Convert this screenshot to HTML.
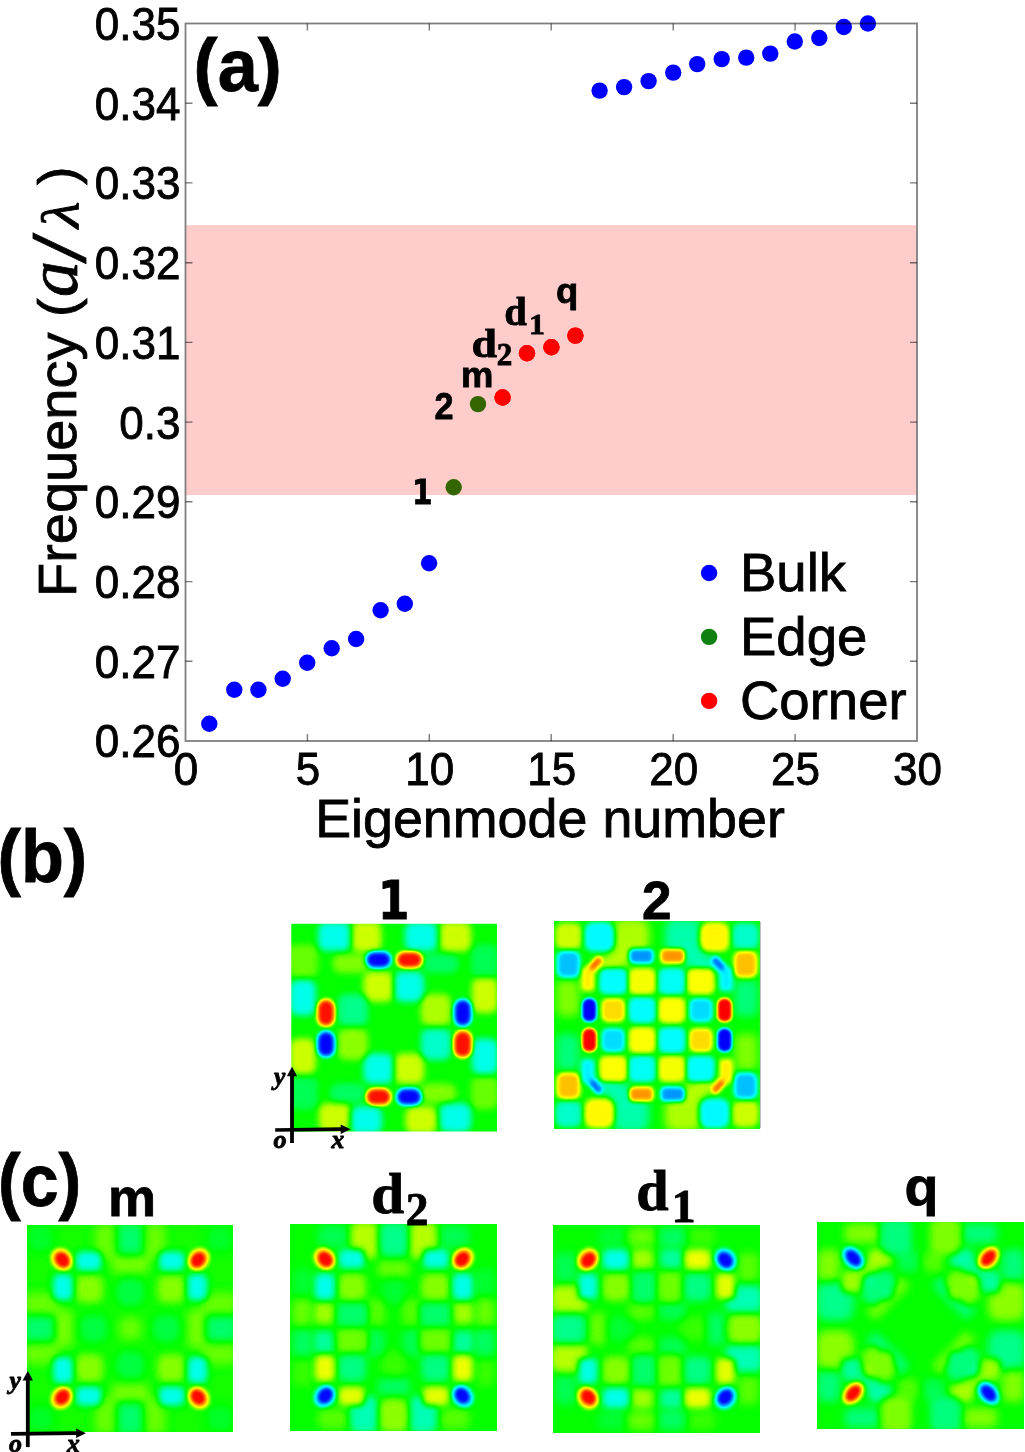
<!DOCTYPE html><html><head><meta charset="utf-8"><title>Figure</title>
<style>html,body{margin:0;padding:0;background:#fff}svg{display:block}text{font-family:"Liberation Sans",sans-serif;fill:#000;stroke:#000;stroke-width:.8px}.b{font-weight:bold}.ri{font-family:"Liberation Serif",serif;font-style:italic}.sit{font-style:italic}.dj{font-family:"DejaVu Sans",sans-serif;font-weight:bold}.s{font-family:"Liberation Serif",serif;font-weight:bold}.si{font-family:"Liberation Serif",serif;font-style:italic;font-weight:bold}</style></head><body>
<svg width="1025" height="1452" viewBox="0 0 1025 1452">
<defs><filter id="cm" x="0" y="0" width="1" height="1" color-interpolation-filters="sRGB"><feComponentTransfer><feFuncR type="table" tableValues="0 0 0 0 0 1 1 1 0.5"/><feFuncG type="table" tableValues="0 0 0.5 1 1 1 0.5 0 0"/><feFuncB type="table" tableValues="0.5 1 1 1 0 0 0 0 0"/></feComponentTransfer></filter>
<clipPath id="c1"><rect x="291.3" y="923.7" width="205.7" height="207.79999999999995"/></clipPath>
<clipPath id="c2"><rect x="554.8" y="921.8" width="204.4000000000001" height="206.60000000000014"/></clipPath>
<clipPath id="c3"><rect x="27.9" y="1225.5" width="204.6" height="206.0999999999999"/></clipPath>
<clipPath id="c4"><rect x="290.5" y="1224.4" width="206.5" height="206.0999999999999"/></clipPath>
<clipPath id="c5"><rect x="553.5" y="1225.1" width="206.5" height="207.10000000000014"/></clipPath>
<clipPath id="c6"><rect x="817.9" y="1222.5" width="206.0" height="206.0999999999999"/></clipPath>
<filter id="b1_5" x="-0.2" y="-0.2" width="1.4" height="1.4" color-interpolation-filters="sRGB"><feGaussianBlur stdDeviation="1.5"/></filter>
<filter id="b1_8" x="-0.2" y="-0.2" width="1.4" height="1.4" color-interpolation-filters="sRGB"><feGaussianBlur stdDeviation="1.8"/></filter>
<filter id="b2_0" x="-0.2" y="-0.2" width="1.4" height="1.4" color-interpolation-filters="sRGB"><feGaussianBlur stdDeviation="2.0"/></filter>
<filter id="b2_1" x="-0.2" y="-0.2" width="1.4" height="1.4" color-interpolation-filters="sRGB"><feGaussianBlur stdDeviation="2.1"/></filter>
<filter id="b2_2" x="-0.2" y="-0.2" width="1.4" height="1.4" color-interpolation-filters="sRGB"><feGaussianBlur stdDeviation="2.2"/></filter>
<filter id="b2_5" x="-0.2" y="-0.2" width="1.4" height="1.4" color-interpolation-filters="sRGB"><feGaussianBlur stdDeviation="2.5"/></filter>
<filter id="b3_0" x="-0.2" y="-0.2" width="1.4" height="1.4" color-interpolation-filters="sRGB"><feGaussianBlur stdDeviation="3.0"/></filter>
<filter id="b3_2" x="-0.2" y="-0.2" width="1.4" height="1.4" color-interpolation-filters="sRGB"><feGaussianBlur stdDeviation="3.2"/></filter>
<filter id="b3_5" x="-0.2" y="-0.2" width="1.4" height="1.4" color-interpolation-filters="sRGB"><feGaussianBlur stdDeviation="3.5"/></filter>
<filter id="b4_0" x="-0.2" y="-0.2" width="1.4" height="1.4" color-interpolation-filters="sRGB"><feGaussianBlur stdDeviation="4.0"/></filter></defs>
<rect width="1025" height="1452" fill="#fff"/>
<circle cx="209.3" cy="723.7" r="8.2" fill="#0000ff"/>
<circle cx="234.3" cy="689.7" r="8.2" fill="#0000ff"/>
<circle cx="258.4" cy="689.7" r="8.2" fill="#0000ff"/>
<circle cx="282.7" cy="678.7" r="8.2" fill="#0000ff"/>
<circle cx="307.2" cy="662.7" r="8.2" fill="#0000ff"/>
<circle cx="331.7" cy="648.3" r="8.2" fill="#0000ff"/>
<circle cx="356.1" cy="639.0" r="8.2" fill="#0000ff"/>
<circle cx="380.6" cy="610.3" r="8.2" fill="#0000ff"/>
<circle cx="404.8" cy="603.8" r="8.2" fill="#0000ff"/>
<circle cx="429.1" cy="563.3" r="8.2" fill="#0000ff"/>
<circle cx="453.7" cy="487.2" r="8.2" fill="#008000"/>
<circle cx="478.0" cy="404.1" r="8.2" fill="#008000"/>
<circle cx="502.6" cy="397.5" r="8.2" fill="#ff0000"/>
<circle cx="527.0" cy="353.2" r="8.2" fill="#ff0000"/>
<circle cx="551.4" cy="347.3" r="8.2" fill="#ff0000"/>
<circle cx="575.4" cy="335.6" r="8.2" fill="#ff0000"/>
<circle cx="599.6" cy="90.6" r="8.2" fill="#0000ff"/>
<circle cx="624.1" cy="87.1" r="8.2" fill="#0000ff"/>
<circle cx="648.6" cy="81.1" r="8.2" fill="#0000ff"/>
<circle cx="673.2" cy="72.6" r="8.2" fill="#0000ff"/>
<circle cx="697.2" cy="64.1" r="8.2" fill="#0000ff"/>
<circle cx="721.7" cy="59.1" r="8.2" fill="#0000ff"/>
<circle cx="746.2" cy="57.6" r="8.2" fill="#0000ff"/>
<circle cx="770.3" cy="53.6" r="8.2" fill="#0000ff"/>
<circle cx="794.8" cy="41.5" r="8.2" fill="#0000ff"/>
<circle cx="819.3" cy="38.0" r="8.2" fill="#0000ff"/>
<circle cx="843.8" cy="27.0" r="8.2" fill="#0000ff"/>
<circle cx="867.9" cy="23.5" r="8.2" fill="#0000ff"/>
<rect x="186.3" y="225.1" width="729.9" height="270.0" fill="#ff0000" fill-opacity="0.2"/>
<circle cx="502.6" cy="397.5" r="8.2" fill="#ff0000"/>
<circle cx="527.0" cy="353.2" r="8.2" fill="#ff0000"/>
<circle cx="551.4" cy="347.3" r="8.2" fill="#ff0000"/>
<circle cx="575.4" cy="335.6" r="8.2" fill="#ff0000"/>
<rect x="185.5" y="23.5" width="731.5" height="717.5" fill="none" stroke="#000" stroke-width="1.8" stroke-opacity=".5"/>
<path d="M185.5 103.2h7M917.0 103.2h-7" stroke="#000" stroke-width="1.4" stroke-opacity=".52"/>
<path d="M185.5 182.9h7M917.0 182.9h-7" stroke="#000" stroke-width="1.4" stroke-opacity=".52"/>
<path d="M185.5 262.7h7M917.0 262.7h-7" stroke="#000" stroke-width="1.4" stroke-opacity=".52"/>
<path d="M185.5 342.4h7M917.0 342.4h-7" stroke="#000" stroke-width="1.4" stroke-opacity=".52"/>
<path d="M185.5 422.1h7M917.0 422.1h-7" stroke="#000" stroke-width="1.4" stroke-opacity=".52"/>
<path d="M185.5 501.8h7M917.0 501.8h-7" stroke="#000" stroke-width="1.4" stroke-opacity=".52"/>
<path d="M185.5 581.6h7M917.0 581.6h-7" stroke="#000" stroke-width="1.4" stroke-opacity=".52"/>
<path d="M185.5 661.3h7M917.0 661.3h-7" stroke="#000" stroke-width="1.4" stroke-opacity=".52"/>
<path d="M307.4 23.5v7M307.4 741.0v-7" stroke="#000" stroke-width="1.4" stroke-opacity=".52"/>
<path d="M429.3 23.5v7M429.3 741.0v-7" stroke="#000" stroke-width="1.4" stroke-opacity=".52"/>
<path d="M551.2 23.5v7M551.2 741.0v-7" stroke="#000" stroke-width="1.4" stroke-opacity=".52"/>
<path d="M673.2 23.5v7M673.2 741.0v-7" stroke="#000" stroke-width="1.4" stroke-opacity=".52"/>
<path d="M795.1 23.5v7M795.1 741.0v-7" stroke="#000" stroke-width="1.4" stroke-opacity=".52"/>
<text transform="translate(180.5 39.9) scale(1 1.03)" font-size="44" text-anchor="end">0.35</text>
<text transform="translate(180.5 119.62222222222223) scale(1 1.03)" font-size="44" text-anchor="end">0.34</text>
<text transform="translate(180.5 199.34444444444446) scale(1 1.03)" font-size="44" text-anchor="end">0.33</text>
<text transform="translate(180.5 279.0666666666666) scale(1 1.03)" font-size="44" text-anchor="end">0.32</text>
<text transform="translate(180.5 358.7888888888889) scale(1 1.03)" font-size="44" text-anchor="end">0.31</text>
<text transform="translate(180.5 438.51111111111106) scale(1 1.03)" font-size="44" text-anchor="end">0.3</text>
<text transform="translate(180.5 518.2333333333333) scale(1 1.03)" font-size="44" text-anchor="end">0.29</text>
<text transform="translate(180.5 597.9555555555555) scale(1 1.03)" font-size="44" text-anchor="end">0.28</text>
<text transform="translate(180.5 677.6777777777778) scale(1 1.03)" font-size="44" text-anchor="end">0.27</text>
<text transform="translate(180.5 757.4) scale(1 1.03)" font-size="44" text-anchor="end">0.26</text>
<text transform="translate(186.0 785.3) scale(1 1.03)" font-size="44" text-anchor="middle">0</text>
<text transform="translate(307.9166666666667 785.3) scale(1 1.03)" font-size="44" text-anchor="middle">5</text>
<text transform="translate(429.83333333333337 785.3) scale(1 1.03)" font-size="44" text-anchor="middle">10</text>
<text transform="translate(551.75 785.3) scale(1 1.03)" font-size="44" text-anchor="middle">15</text>
<text transform="translate(673.6666666666667 785.3) scale(1 1.03)" font-size="44" text-anchor="middle">20</text>
<text transform="translate(795.5833333333334 785.3) scale(1 1.03)" font-size="44" text-anchor="middle">25</text>
<text transform="translate(917.5 785.3) scale(1 1.03)" font-size="44" text-anchor="middle">30</text>
<text transform="translate(550 837) scale(1.008 1)" font-size="53.4" text-anchor="middle">Eigenmode number</text>
<text transform="translate(76.3 597) rotate(-90) scale(1.027 1)" font-size="54.5">Frequency (</text>
<text transform="translate(77 297) rotate(-90)" font-size="72" class="ri">a</text>
<text transform="translate(85.5 259.5) rotate(-90)" font-size="73" class="sit">/</text>
<text transform="translate(77.5 228) rotate(-90) scale(1.15 1)" font-size="53" class="ri">λ</text>
<text transform="translate(76.3 185) rotate(-90) scale(1.027 1)" font-size="54.5">)</text>
<circle cx="709.1" cy="573" r="8.2" fill="#0000ff"/>
<text transform="translate(740 591.2) scale(1.025 1)" font-size="53.2" text-anchor="start">Bulk</text>
<circle cx="709.1" cy="636.9" r="8.2" fill="#108010"/>
<text transform="translate(740 655.4000000000001) scale(1.025 1)" font-size="53.2" text-anchor="start">Edge</text>
<circle cx="709.1" cy="700.9" r="8.2" fill="#ff0000"/>
<text transform="translate(740 718.7) scale(1.025 1)" font-size="53.2" text-anchor="start">Corner</text>
<text transform="translate(-2.5 882) scale(0.95 1)" font-size="74" text-anchor="start" class="b">(b)</text>
<text transform="translate(193.6 91) scale(0.975 1)" font-size="74" text-anchor="start" class="b">(a)</text>
<text transform="translate(-2 1205.5) scale(0.92 1)" font-size="74" text-anchor="start" class="b">(c)</text>
<text transform="translate(412 504.4) scale(0.87 1)" font-size="34" text-anchor="start" class="dj">1</text>
<text transform="translate(434.5 418.5) scale(0.95 1)" font-size="36" text-anchor="start" class="b">2</text>
<text transform="translate(461 387) scale(1.04 1)" font-size="35" text-anchor="start" class="b">m</text>
<text transform="translate(471.5 357) scale(1.15 1)" font-size="39.8" text-anchor="start" class="s">d</text>
<text transform="translate(496.8 364.9) scale(1.0 1)" font-size="31" text-anchor="start" class="s">2</text>
<text transform="translate(504.3 325.3) scale(1.0 1)" font-size="40.6" text-anchor="start" class="s">d</text>
<text transform="translate(529 334) scale(1.08 1)" font-size="29.5" text-anchor="start" class="s">1</text>
<text transform="translate(556 303.2) scale(1.04 1)" font-size="35" text-anchor="start" class="b">q</text>
<g clip-path="url(#c1)"><g filter="url(#cm)">
<rect x="261.3" y="893.7" width="265.7" height="267.79999999999995" fill="#808080"/>
<g filter="url(#b3_2)">
<rect x="318.1" y="922.0" width="32.8" height="28.8" rx="8.2" fill="#626262"/>
<rect x="351.3" y="921.4" width="30.1" height="30.2" rx="8.2" fill="#999999"/>
<rect x="404.9" y="922.0" width="32.8" height="28.8" rx="8.2" fill="#626262"/>
<rect x="439.7" y="921.4" width="31.5" height="30.2" rx="8.2" fill="#999999"/>
<rect x="332.6" y="953.8" width="35.6" height="19.2" rx="8.2" fill="#8f8f8f"/>
<rect x="423.0" y="953.8" width="35.6" height="19.2" rx="8.2" fill="#737373"/>
<rect x="318.8" y="1103.2" width="31.5" height="28.8" rx="8.2" fill="#999999"/>
<rect x="350.6" y="1106.3" width="31.5" height="27.4" rx="8.2" fill="#626262"/>
<rect x="405.5" y="1106.3" width="31.5" height="27.4" rx="8.2" fill="#999999"/>
<rect x="439.7" y="1103.2" width="31.5" height="28.8" rx="8.2" fill="#626262"/>
<rect x="330.2" y="1083.5" width="35.6" height="19.2" rx="8.2" fill="#737373"/>
<rect x="420.6" y="1083.5" width="35.6" height="19.2" rx="8.2" fill="#8f8f8f"/>
<rect x="289.8" y="979.8" width="26.0" height="35.6" rx="8.2" fill="#626262"/>
<rect x="289.8" y="1038.5" width="26.0" height="35.6" rx="8.2" fill="#999999"/>
<rect x="287.7" y="944.5" width="30.1" height="32.9" rx="8.2" fill="#8c8c8c"/>
<rect x="287.7" y="1076.6" width="30.1" height="32.9" rx="8.2" fill="#757575"/>
<rect x="471.8" y="977.4" width="26.0" height="35.6" rx="8.2" fill="#999999"/>
<rect x="471.8" y="1038.5" width="26.0" height="35.6" rx="8.2" fill="#626262"/>
<rect x="471.1" y="944.5" width="27.4" height="32.9" rx="8.2" fill="#757575"/>
<rect x="471.1" y="1076.6" width="27.4" height="32.9" rx="8.2" fill="#8c8c8c"/>
<rect x="363.5" y="971.5" width="30.1" height="30.2" rx="8.2" fill="#999999"/>
<rect x="394.0" y="971.5" width="30.1" height="30.2" rx="8.2" fill="#626262"/>
<rect x="420.9" y="994.1" width="30.1" height="31.5" rx="8.2" fill="#959595"/>
<rect x="420.9" y="1028.4" width="30.1" height="31.5" rx="8.2" fill="#666666"/>
<rect x="363.5" y="1053.5" width="30.1" height="30.2" rx="8.2" fill="#626262"/>
<rect x="394.0" y="1053.5" width="30.1" height="30.2" rx="8.2" fill="#999999"/>
<rect x="337.8" y="994.1" width="30.1" height="31.5" rx="8.2" fill="#6e6e6e"/>
<rect x="337.8" y="1028.4" width="30.1" height="31.5" rx="8.2" fill="#919191"/>
</g>
<g filter="url(#b2_1)">
<rect x="366.3" y="951.9" width="24.4" height="15.5" rx="8.2" fill="#212121"/>
<rect x="396.8" y="951.9" width="25.4" height="15.5" rx="8.2" fill="#dbdbdb"/>
<rect x="317.7" y="999.8" width="16.6" height="26.0" rx="8.2" fill="#dbdbdb"/>
<rect x="317.7" y="1031.6" width="16.6" height="25.0" rx="8.2" fill="#212121"/>
<rect x="454.5" y="999.8" width="16.6" height="26.0" rx="8.2" fill="#212121"/>
<rect x="454.0" y="1031.1" width="17.6" height="26.0" rx="8.2" fill="#dbdbdb"/>
<rect x="366.3" y="1088.8" width="24.4" height="16.0" rx="8.2" fill="#dbdbdb"/>
<rect x="396.8" y="1088.8" width="24.4" height="16.0" rx="8.2" fill="#212121"/>
</g>
</g></g>
<g clip-path="url(#c2)"><g filter="url(#cm)">
<rect x="524.8" y="891.8" width="264.4000000000001" height="266.60000000000014" fill="#808080"/>
<g filter="url(#b4_0)">
<rect x="556.1" y="979.6" width="23.1" height="36.6" rx="6.9" fill="#8f8f8f"/>
<rect x="734.7" y="979.6" width="23.1" height="36.6" rx="6.9" fill="#707070"/>
<rect x="556.1" y="1034.0" width="23.1" height="36.6" rx="6.9" fill="#707070"/>
<rect x="734.7" y="1034.0" width="23.1" height="36.6" rx="6.9" fill="#8f8f8f"/>
<rect x="612.7" y="918.6" width="36.5" height="36.6" rx="11.0" fill="#959595"/>
<rect x="664.8" y="918.6" width="36.5" height="36.6" rx="11.0" fill="#6a6a6a"/>
<rect x="612.7" y="1095.0" width="36.5" height="36.6" rx="11.0" fill="#6a6a6a"/>
<rect x="664.8" y="1095.0" width="36.5" height="36.6" rx="11.0" fill="#959595"/>
<rect x="595.1" y="949.7" width="42.6" height="20.7" rx="6.2" fill="#969696" transform="rotate(-35 616.4 960.1)"/>
<rect x="676.3" y="949.7" width="42.6" height="20.7" rx="6.2" fill="#696969" transform="rotate(35 697.6 960.1)"/>
<rect x="595.1" y="1079.7" width="42.6" height="20.7" rx="6.2" fill="#696969" transform="rotate(35 616.4 1090.1)"/>
<rect x="676.3" y="1079.7" width="42.6" height="20.7" rx="6.2" fill="#969696" transform="rotate(-35 697.6 1090.1)"/>
</g>
<g filter="url(#b2_5)">
<rect x="555.3" y="923.0" width="26.3" height="26.3" rx="7.9" fill="#999999"/>
<rect x="732.4" y="923.0" width="26.3" height="26.3" rx="7.9" fill="#666666"/>
<rect x="555.3" y="1100.8" width="26.3" height="26.3" rx="7.9" fill="#666666"/>
<rect x="732.4" y="1100.8" width="26.3" height="26.3" rx="7.9" fill="#999999"/>
<rect x="584.5" y="922.3" width="29.7" height="29.3" rx="8.8" fill="#5e5e5e"/>
<rect x="699.8" y="922.3" width="29.7" height="29.3" rx="8.8" fill="#a1a1a1"/>
<rect x="584.5" y="1098.6" width="29.7" height="29.3" rx="8.8" fill="#a1a1a1"/>
<rect x="699.8" y="1098.6" width="29.7" height="29.3" rx="8.8" fill="#5e5e5e"/>
<rect x="557.0" y="951.1" width="22.9" height="26.3" rx="6.9" fill="#505050"/>
<rect x="734.1" y="951.1" width="22.9" height="26.3" rx="6.9" fill="#afafaf"/>
<rect x="557.0" y="1072.8" width="22.9" height="26.3" rx="6.9" fill="#afafaf"/>
<rect x="734.1" y="1072.8" width="22.9" height="26.3" rx="6.9" fill="#505050"/>
<rect x="581.1" y="966.7" width="13.6" height="24.4" rx="4.1" fill="#a3a3a3"/>
<rect x="719.3" y="966.7" width="13.6" height="24.4" rx="4.1" fill="#5c5c5c"/>
<rect x="581.1" y="1059.1" width="13.6" height="24.4" rx="4.1" fill="#5c5c5c"/>
<rect x="719.3" y="1059.1" width="13.6" height="24.4" rx="4.1" fill="#a3a3a3"/>
</g>
<g filter="url(#b2_2)">
<rect x="629.3" y="948.9" width="23.8" height="14.1" rx="4.2" fill="#454545"/>
<rect x="660.9" y="948.9" width="23.8" height="14.1" rx="4.2" fill="#bababa"/>
<rect x="629.3" y="1087.2" width="23.8" height="14.1" rx="4.2" fill="#bababa"/>
<rect x="660.9" y="1087.2" width="23.8" height="14.1" rx="4.2" fill="#454545"/>
<rect x="599.1" y="968.1" width="28.2" height="26.3" rx="7.2" fill="#606060"/>
<rect x="686.7" y="968.1" width="28.2" height="26.3" rx="7.2" fill="#9f9f9f"/>
<rect x="599.1" y="1055.7" width="28.2" height="26.3" rx="7.2" fill="#9f9f9f"/>
<rect x="686.7" y="1055.7" width="28.2" height="26.3" rx="7.2" fill="#606060"/>
<rect x="628.5" y="968.1" width="27.3" height="26.3" rx="7.2" fill="#9e9e9e"/>
<rect x="658.2" y="968.1" width="27.3" height="26.3" rx="7.2" fill="#616161"/>
<rect x="628.5" y="1055.7" width="27.3" height="26.3" rx="7.2" fill="#616161"/>
<rect x="658.2" y="1055.7" width="27.3" height="26.3" rx="7.2" fill="#9e9e9e"/>
<rect x="601.8" y="998.4" width="22.9" height="23.4" rx="6.1" fill="#a8a8a8"/>
<rect x="689.4" y="998.4" width="22.9" height="23.4" rx="6.1" fill="#575757"/>
<rect x="601.8" y="1028.4" width="22.9" height="23.4" rx="6.1" fill="#575757"/>
<rect x="689.4" y="1028.4" width="22.9" height="23.4" rx="6.1" fill="#a8a8a8"/>
<rect x="628.5" y="996.9" width="27.3" height="26.3" rx="7.2" fill="#606060"/>
<rect x="658.2" y="996.9" width="27.3" height="26.3" rx="7.2" fill="#9f9f9f"/>
<rect x="628.5" y="1026.9" width="27.3" height="26.3" rx="7.2" fill="#9f9f9f"/>
<rect x="658.2" y="1026.9" width="27.3" height="26.3" rx="7.2" fill="#606060"/>
</g>
<g filter="url(#b2_0)">
<rect x="588.1" y="960.3" width="15.1" height="6.8" rx="2.0" fill="#c9c9c9" transform="rotate(-48 595.7 963.8)"/>
<rect x="710.8" y="960.3" width="15.1" height="6.8" rx="2.0" fill="#363636" transform="rotate(48 718.3 963.8)"/>
<rect x="588.1" y="1083.0" width="15.1" height="6.8" rx="2.0" fill="#363636" transform="rotate(48 595.7 1086.4)"/>
<rect x="710.8" y="1083.0" width="15.1" height="6.8" rx="2.0" fill="#c9c9c9" transform="rotate(-48 718.3 1086.4)"/>
</g>
<g filter="url(#b1_8)">
<rect x="582.4" y="998.6" width="13.9" height="22.9" rx="6.1" fill="#1f1f1f"/>
<rect x="717.7" y="998.6" width="13.9" height="22.9" rx="6.1" fill="#e0e0e0"/>
<rect x="582.4" y="1028.6" width="13.9" height="22.9" rx="6.1" fill="#e0e0e0"/>
<rect x="717.7" y="1028.6" width="13.9" height="22.9" rx="6.1" fill="#1f1f1f"/>
</g>
</g></g>
<g clip-path="url(#c3)"><g filter="url(#cm)">
<rect x="-2.1000000000000014" y="1195.5" width="264.6" height="266.0999999999999" fill="#828282"/>
<g filter="url(#b4_0)">
<rect x="112.9" y="1223.4" width="34.6" height="32.1" rx="9.6" fill="#727272"/>
<rect x="112.9" y="1401.6" width="34.6" height="32.1" rx="9.6" fill="#727272"/>
<rect x="23.8" y="1311.3" width="30.9" height="34.6" rx="9.3" fill="#727272"/>
<rect x="205.7" y="1311.3" width="30.9" height="34.6" rx="9.3" fill="#727272"/>
<rect x="111.7" y="1255.5" width="37.0" height="17.3" rx="5.2" fill="#8e8e8e"/>
<rect x="111.7" y="1384.3" width="37.0" height="17.3" rx="5.2" fill="#8e8e8e"/>
<rect x="55.3" y="1310.0" width="17.3" height="37.0" rx="5.2" fill="#8e8e8e"/>
<rect x="187.8" y="1310.0" width="17.3" height="37.0" rx="5.2" fill="#8e8e8e"/>
<rect x="94.7" y="1223.1" width="22.2" height="37.0" rx="6.7" fill="#8c8c8c"/>
<rect x="143.5" y="1223.1" width="22.2" height="37.0" rx="6.7" fill="#8c8c8c"/>
<rect x="94.7" y="1397.0" width="22.2" height="37.0" rx="6.7" fill="#8c8c8c"/>
<rect x="143.5" y="1397.0" width="22.2" height="37.0" rx="6.7" fill="#8c8c8c"/>
<rect x="22.9" y="1292.8" width="37.0" height="22.2" rx="6.7" fill="#8c8c8c"/>
<rect x="200.5" y="1292.8" width="37.0" height="22.2" rx="6.7" fill="#8c8c8c"/>
<rect x="22.9" y="1342.1" width="37.0" height="22.2" rx="6.7" fill="#8c8c8c"/>
<rect x="200.5" y="1342.1" width="37.0" height="22.2" rx="6.7" fill="#8c8c8c"/>
<rect x="80.4" y="1315.0" width="27.2" height="27.2" rx="8.1" fill="#777777"/>
<rect x="152.8" y="1315.0" width="27.2" height="27.2" rx="8.1" fill="#777777"/>
<rect x="116.6" y="1278.5" width="27.2" height="27.2" rx="8.1" fill="#777777"/>
<rect x="116.6" y="1351.5" width="27.2" height="27.2" rx="8.1" fill="#777777"/>
<rect x="119.1" y="1317.4" width="22.2" height="22.2" rx="6.7" fill="#8c8c8c"/>
<rect x="28.0" y="1226.0" width="24.7" height="24.7" rx="7.4" fill="#7a7a7a"/>
<rect x="207.7" y="1226.0" width="24.7" height="24.7" rx="7.4" fill="#7a7a7a"/>
<rect x="28.0" y="1406.4" width="24.7" height="24.7" rx="7.4" fill="#7a7a7a"/>
<rect x="207.7" y="1406.4" width="24.7" height="24.7" rx="7.4" fill="#7a7a7a"/>
</g>
<g filter="url(#b3_5)">
<rect x="75.3" y="1275.1" width="27.5" height="27.5" rx="8.2" fill="#909090"/>
<rect x="157.6" y="1275.1" width="27.5" height="27.5" rx="8.2" fill="#909090"/>
<rect x="75.3" y="1354.5" width="27.5" height="27.5" rx="8.2" fill="#909090"/>
<rect x="157.6" y="1354.5" width="27.5" height="27.5" rx="8.2" fill="#909090"/>
</g>
<g filter="url(#b3_0)">
<rect x="76.0" y="1251.5" width="25.3" height="18.9" rx="5.7" fill="#626262"/>
<rect x="159.1" y="1251.5" width="25.3" height="18.9" rx="5.7" fill="#626262"/>
<rect x="76.0" y="1386.7" width="25.3" height="18.9" rx="5.7" fill="#626262"/>
<rect x="159.1" y="1386.7" width="25.3" height="18.9" rx="5.7" fill="#626262"/>
<rect x="53.2" y="1274.0" width="19.3" height="26.2" rx="5.8" fill="#626262"/>
<rect x="187.8" y="1274.0" width="19.3" height="26.2" rx="5.8" fill="#626262"/>
<rect x="53.2" y="1356.9" width="19.3" height="26.2" rx="5.8" fill="#626262"/>
<rect x="187.8" y="1356.9" width="19.3" height="26.2" rx="5.8" fill="#626262"/>
</g>
<g filter="url(#b2_0)">
<ellipse cx="61.8" cy="1259.4" rx="11.4" ry="9.7" fill="#b2b2b2" transform="rotate(50 61.8 1259.4)"/>
<ellipse cx="198.6" cy="1259.4" rx="11.4" ry="9.7" fill="#b2b2b2" transform="rotate(-50 198.6 1259.4)"/>
<ellipse cx="61.8" cy="1397.7" rx="11.4" ry="9.7" fill="#b2b2b2" transform="rotate(-50 61.8 1397.7)"/>
<ellipse cx="198.6" cy="1397.7" rx="11.4" ry="9.7" fill="#b2b2b2" transform="rotate(50 198.6 1397.7)"/>
</g>
<g filter="url(#b1_5)">
<ellipse cx="62.3" cy="1259.8" rx="7.7" ry="6.2" fill="#dddddd" transform="rotate(50 62.3 1259.8)"/>
<ellipse cx="198.1" cy="1259.8" rx="7.7" ry="6.2" fill="#dddddd" transform="rotate(-50 198.1 1259.8)"/>
<ellipse cx="62.3" cy="1397.2" rx="7.7" ry="6.2" fill="#dddddd" transform="rotate(-50 62.3 1397.2)"/>
<ellipse cx="198.1" cy="1397.2" rx="7.7" ry="6.2" fill="#dddddd" transform="rotate(50 198.1 1397.2)"/>
</g>
</g></g>
<g clip-path="url(#c4)"><g filter="url(#cm)">
<rect x="260.5" y="1194.4" width="266.5" height="266.0999999999999" fill="#808080"/>
<g filter="url(#b4_0)">
<rect x="318.0" y="1225.7" width="29.6" height="21.0" rx="6.3" fill="#757575"/>
<rect x="439.9" y="1225.7" width="29.6" height="21.0" rx="6.3" fill="#757575"/>
<rect x="318.0" y="1408.2" width="29.6" height="21.0" rx="6.3" fill="#8a8a8a"/>
<rect x="439.9" y="1408.2" width="29.6" height="21.0" rx="6.3" fill="#8a8a8a"/>
<rect x="377.7" y="1259.8" width="32.1" height="17.3" rx="5.2" fill="#8c8c8c"/>
<rect x="377.7" y="1377.8" width="32.1" height="17.3" rx="5.2" fill="#737373"/>
<rect x="381.4" y="1277.4" width="24.7" height="27.2" rx="7.4" fill="#797979"/>
<rect x="381.4" y="1350.4" width="24.7" height="27.2" rx="7.4" fill="#868686"/>
<rect x="292.4" y="1298.8" width="19.7" height="27.2" rx="5.9" fill="#8c8c8c"/>
<rect x="475.3" y="1298.8" width="19.7" height="27.2" rx="5.9" fill="#8c8c8c"/>
<rect x="292.4" y="1328.9" width="19.7" height="27.2" rx="5.9" fill="#737373"/>
<rect x="475.3" y="1328.9" width="19.7" height="27.2" rx="5.9" fill="#737373"/>
<rect x="292.4" y="1268.8" width="19.7" height="27.2" rx="5.9" fill="#797979"/>
<rect x="475.3" y="1268.8" width="19.7" height="27.2" rx="5.9" fill="#797979"/>
<rect x="292.4" y="1359.0" width="19.7" height="27.2" rx="5.9" fill="#868686"/>
<rect x="475.3" y="1359.0" width="19.7" height="27.2" rx="5.9" fill="#868686"/>
<rect x="365.4" y="1298.8" width="19.7" height="27.2" rx="5.9" fill="#8a8a8a"/>
<rect x="402.3" y="1298.8" width="19.7" height="27.2" rx="5.9" fill="#8a8a8a"/>
<rect x="365.4" y="1328.9" width="19.7" height="27.2" rx="5.9" fill="#757575"/>
<rect x="402.3" y="1328.9" width="19.7" height="27.2" rx="5.9" fill="#757575"/>
</g>
<g filter="url(#b3_5)">
<rect x="338.2" y="1273.3" width="27.9" height="27.5" rx="8.2" fill="#909090"/>
<rect x="421.4" y="1273.3" width="27.9" height="27.5" rx="8.2" fill="#909090"/>
<rect x="338.2" y="1354.1" width="27.9" height="27.5" rx="8.2" fill="#6f6f6f"/>
<rect x="421.4" y="1354.1" width="27.9" height="27.5" rx="8.2" fill="#6f6f6f"/>
<rect x="314.3" y="1301.6" width="19.7" height="22.5" rx="5.9" fill="#939393"/>
<rect x="453.4" y="1301.6" width="19.7" height="22.5" rx="5.9" fill="#939393"/>
<rect x="314.3" y="1330.8" width="19.7" height="22.5" rx="5.9" fill="#6c6c6c"/>
<rect x="453.4" y="1330.8" width="19.7" height="22.5" rx="5.9" fill="#6c6c6c"/>
<rect x="336.3" y="1302.2" width="31.6" height="24.7" rx="7.4" fill="#727272"/>
<rect x="419.6" y="1302.2" width="31.6" height="24.7" rx="7.4" fill="#727272"/>
<rect x="336.3" y="1328.0" width="31.6" height="24.7" rx="7.4" fill="#8d8d8d"/>
<rect x="419.6" y="1328.0" width="31.6" height="24.7" rx="7.4" fill="#8d8d8d"/>
<rect x="350.8" y="1222.0" width="26.7" height="37.0" rx="8.0" fill="#969696"/>
<rect x="410.0" y="1222.0" width="26.7" height="37.0" rx="8.0" fill="#969696"/>
<rect x="350.8" y="1395.9" width="26.7" height="37.0" rx="8.0" fill="#696969"/>
<rect x="410.0" y="1395.9" width="26.7" height="37.0" rx="8.0" fill="#696969"/>
<rect x="378.9" y="1222.8" width="29.6" height="33.3" rx="8.9" fill="#6e6e6e"/>
<rect x="378.9" y="1398.8" width="29.6" height="33.3" rx="8.9" fill="#919191"/>
</g>
<g filter="url(#b3_0)">
<rect x="338.8" y="1249.3" width="25.8" height="18.9" rx="5.7" fill="#636363"/>
<rect x="422.9" y="1249.3" width="25.8" height="18.9" rx="5.7" fill="#636363"/>
<rect x="338.8" y="1386.7" width="25.8" height="18.9" rx="5.7" fill="#9c9c9c"/>
<rect x="422.9" y="1386.7" width="25.8" height="18.9" rx="5.7" fill="#9c9c9c"/>
<rect x="315.0" y="1273.6" width="19.7" height="26.2" rx="5.9" fill="#626262"/>
<rect x="452.8" y="1273.6" width="19.7" height="26.2" rx="5.9" fill="#626262"/>
<rect x="315.0" y="1355.1" width="19.7" height="26.2" rx="5.9" fill="#9d9d9d"/>
<rect x="452.8" y="1355.1" width="19.7" height="26.2" rx="5.9" fill="#9d9d9d"/>
</g>
<g filter="url(#b2_0)">
<ellipse cx="324.8" cy="1258.8" rx="11.4" ry="9.7" fill="#b2b2b2" transform="rotate(50 324.8 1258.8)"/>
<ellipse cx="462.7" cy="1258.8" rx="11.4" ry="9.7" fill="#b2b2b2" transform="rotate(-50 462.7 1258.8)"/>
<ellipse cx="324.8" cy="1396.2" rx="11.4" ry="9.7" fill="#4d4d4d" transform="rotate(-50 324.8 1396.2)"/>
<ellipse cx="462.7" cy="1396.2" rx="11.4" ry="9.7" fill="#4d4d4d" transform="rotate(50 462.7 1396.2)"/>
</g>
<g filter="url(#b1_5)">
<ellipse cx="325.3" cy="1259.2" rx="7.7" ry="6.2" fill="#dddddd" transform="rotate(50 325.3 1259.2)"/>
<ellipse cx="462.2" cy="1259.2" rx="7.7" ry="6.2" fill="#dddddd" transform="rotate(-50 462.2 1259.2)"/>
<ellipse cx="325.3" cy="1395.7" rx="7.7" ry="6.2" fill="#222222" transform="rotate(-50 325.3 1395.7)"/>
<ellipse cx="462.2" cy="1395.7" rx="7.7" ry="6.2" fill="#222222" transform="rotate(50 462.2 1395.7)"/>
</g>
</g></g>
<g clip-path="url(#c5)"><g filter="url(#cm)">
<rect x="523.5" y="1195.1" width="266.5" height="267.10000000000014" fill="#808080"/>
<g filter="url(#b4_0)">
<rect x="554.8" y="1252.7" width="21.0" height="29.7" rx="6.3" fill="#757575"/>
<rect x="737.7" y="1252.7" width="21.0" height="29.7" rx="6.3" fill="#8a8a8a"/>
<rect x="554.8" y="1374.9" width="21.0" height="29.7" rx="6.3" fill="#757575"/>
<rect x="737.7" y="1374.9" width="21.0" height="29.7" rx="6.3" fill="#8a8a8a"/>
<rect x="588.9" y="1312.6" width="17.3" height="32.2" rx="5.2" fill="#8c8c8c"/>
<rect x="707.2" y="1312.6" width="17.3" height="32.2" rx="5.2" fill="#737373"/>
<rect x="606.6" y="1316.3" width="27.2" height="24.8" rx="7.4" fill="#797979"/>
<rect x="679.7" y="1316.3" width="27.2" height="24.8" rx="7.4" fill="#868686"/>
<rect x="628.1" y="1227.0" width="27.2" height="19.8" rx="5.9" fill="#8c8c8c"/>
<rect x="658.2" y="1227.0" width="27.2" height="19.8" rx="5.9" fill="#737373"/>
<rect x="628.1" y="1410.5" width="27.2" height="19.8" rx="5.9" fill="#8c8c8c"/>
<rect x="658.2" y="1410.5" width="27.2" height="19.8" rx="5.9" fill="#737373"/>
<rect x="598.0" y="1227.0" width="27.2" height="19.8" rx="5.9" fill="#797979"/>
<rect x="688.3" y="1227.0" width="27.2" height="19.8" rx="5.9" fill="#868686"/>
<rect x="598.0" y="1410.5" width="27.2" height="19.8" rx="5.9" fill="#797979"/>
<rect x="688.3" y="1410.5" width="27.2" height="19.8" rx="5.9" fill="#868686"/>
<rect x="628.1" y="1300.2" width="27.2" height="19.8" rx="5.9" fill="#8a8a8a"/>
<rect x="658.2" y="1300.2" width="27.2" height="19.8" rx="5.9" fill="#757575"/>
<rect x="628.1" y="1337.3" width="27.2" height="19.8" rx="5.9" fill="#8a8a8a"/>
<rect x="658.2" y="1337.3" width="27.2" height="19.8" rx="5.9" fill="#757575"/>
</g>
<g filter="url(#b3_5)">
<rect x="602.5" y="1272.9" width="27.5" height="28.0" rx="8.3" fill="#909090"/>
<rect x="683.4" y="1272.9" width="27.5" height="28.0" rx="8.3" fill="#6f6f6f"/>
<rect x="602.5" y="1356.4" width="27.5" height="28.0" rx="8.3" fill="#909090"/>
<rect x="683.4" y="1356.4" width="27.5" height="28.0" rx="8.3" fill="#6f6f6f"/>
<rect x="630.8" y="1249.0" width="22.6" height="19.8" rx="5.9" fill="#939393"/>
<rect x="660.1" y="1249.0" width="22.6" height="19.8" rx="5.9" fill="#6c6c6c"/>
<rect x="630.8" y="1388.5" width="22.6" height="19.8" rx="5.9" fill="#939393"/>
<rect x="660.1" y="1388.5" width="22.6" height="19.8" rx="5.9" fill="#6c6c6c"/>
<rect x="631.5" y="1271.0" width="24.7" height="31.7" rx="7.4" fill="#727272"/>
<rect x="657.3" y="1271.0" width="24.7" height="31.7" rx="7.4" fill="#8d8d8d"/>
<rect x="631.5" y="1354.6" width="24.7" height="31.7" rx="7.4" fill="#727272"/>
<rect x="657.3" y="1354.6" width="24.7" height="31.7" rx="7.4" fill="#8d8d8d"/>
<rect x="551.1" y="1285.6" width="37.1" height="26.7" rx="8.0" fill="#969696"/>
<rect x="725.3" y="1285.6" width="37.1" height="26.7" rx="8.0" fill="#696969"/>
<rect x="551.1" y="1345.0" width="37.1" height="26.7" rx="8.0" fill="#969696"/>
<rect x="725.3" y="1345.0" width="37.1" height="26.7" rx="8.0" fill="#696969"/>
<rect x="551.9" y="1313.8" width="33.4" height="29.7" rx="8.9" fill="#6e6e6e"/>
<rect x="728.2" y="1313.8" width="33.4" height="29.7" rx="8.9" fill="#919191"/>
</g>
<g filter="url(#b3_0)">
<rect x="578.5" y="1273.5" width="18.9" height="25.8" rx="5.7" fill="#636363"/>
<rect x="716.1" y="1273.5" width="18.9" height="25.8" rx="5.7" fill="#9c9c9c"/>
<rect x="578.5" y="1357.9" width="18.9" height="25.8" rx="5.7" fill="#636363"/>
<rect x="716.1" y="1357.9" width="18.9" height="25.8" rx="5.7" fill="#9c9c9c"/>
<rect x="602.8" y="1249.6" width="26.2" height="19.8" rx="5.9" fill="#626262"/>
<rect x="684.5" y="1249.6" width="26.2" height="19.8" rx="5.9" fill="#9d9d9d"/>
<rect x="602.8" y="1387.9" width="26.2" height="19.8" rx="5.9" fill="#626262"/>
<rect x="684.5" y="1387.9" width="26.2" height="19.8" rx="5.9" fill="#9d9d9d"/>
</g>
<g filter="url(#b2_0)">
<ellipse cx="587.9" cy="1259.5" rx="9.7" ry="11.4" fill="#b2b2b2" transform="rotate(40 587.9 1259.5)"/>
<ellipse cx="725.6" cy="1259.5" rx="9.7" ry="11.4" fill="#4d4d4d" transform="rotate(-40 725.6 1259.5)"/>
<ellipse cx="587.9" cy="1397.8" rx="9.7" ry="11.4" fill="#b2b2b2" transform="rotate(-40 587.9 1397.8)"/>
<ellipse cx="725.6" cy="1397.8" rx="9.7" ry="11.4" fill="#4d4d4d" transform="rotate(40 725.6 1397.8)"/>
</g>
<g filter="url(#b1_5)">
<ellipse cx="588.3" cy="1260.0" rx="6.2" ry="7.8" fill="#dddddd" transform="rotate(40 588.3 1260.0)"/>
<ellipse cx="725.2" cy="1260.0" rx="6.2" ry="7.8" fill="#222222" transform="rotate(-40 725.2 1260.0)"/>
<ellipse cx="588.3" cy="1397.3" rx="6.2" ry="7.8" fill="#dddddd" transform="rotate(-40 588.3 1397.3)"/>
<ellipse cx="725.2" cy="1397.3" rx="6.2" ry="7.8" fill="#222222" transform="rotate(40 725.2 1397.3)"/>
</g>
</g></g>
<g clip-path="url(#c6)"><g filter="url(#cm)">
<rect x="787.9" y="1192.5" width="266.0" height="266.0999999999999" fill="#808080"/>
<g filter="url(#b4_0)">
<rect x="898.2" y="1250.0" width="19.7" height="22.2" rx="5.9" fill="#757575"/>
<rect x="923.9" y="1250.0" width="19.7" height="22.2" rx="5.9" fill="#8a8a8a"/>
<rect x="898.2" y="1378.8" width="19.7" height="22.2" rx="5.9" fill="#8a8a8a"/>
<rect x="923.9" y="1378.8" width="19.7" height="22.2" rx="5.9" fill="#757575"/>
<rect x="844.6" y="1223.4" width="34.5" height="19.8" rx="5.9" fill="#8f8f8f"/>
<rect x="962.6" y="1223.4" width="34.5" height="19.8" rx="5.9" fill="#707070"/>
<rect x="844.6" y="1408.0" width="34.5" height="19.8" rx="5.9" fill="#707070"/>
<rect x="962.6" y="1408.0" width="34.5" height="19.8" rx="5.9" fill="#8f8f8f"/>
<rect x="816.6" y="1281.1" width="37.0" height="39.5" rx="11.1" fill="#6e6e6e"/>
<rect x="988.2" y="1281.1" width="37.0" height="39.5" rx="11.1" fill="#919191"/>
<rect x="816.6" y="1330.5" width="37.0" height="39.5" rx="11.1" fill="#919191"/>
<rect x="988.2" y="1330.5" width="37.0" height="39.5" rx="11.1" fill="#6e6e6e"/>
<rect x="817.5" y="1249.4" width="22.2" height="32.1" rx="6.7" fill="#8f8f8f"/>
<rect x="1002.1" y="1249.4" width="22.2" height="32.1" rx="6.7" fill="#707070"/>
<rect x="817.5" y="1369.6" width="22.2" height="32.1" rx="6.7" fill="#707070"/>
<rect x="1002.1" y="1369.6" width="22.2" height="32.1" rx="6.7" fill="#8f8f8f"/>
<rect x="863.0" y="1290.0" width="49.4" height="15.3" rx="4.6" fill="#8e8e8e" transform="rotate(-45 887.6 1297.6)"/>
<rect x="929.5" y="1290.0" width="49.4" height="15.3" rx="4.6" fill="#717171" transform="rotate(45 954.2 1297.6)"/>
<rect x="863.0" y="1345.8" width="49.4" height="15.3" rx="4.6" fill="#717171" transform="rotate(45 887.6 1353.5)"/>
<rect x="929.5" y="1345.8" width="49.4" height="15.3" rx="4.6" fill="#8e8e8e" transform="rotate(-45 954.2 1353.5)"/>
<rect x="847.7" y="1266.3" width="37.0" height="12.3" rx="3.7" fill="#939393" transform="rotate(-45 866.2 1272.5)"/>
<rect x="957.1" y="1266.3" width="37.0" height="12.3" rx="3.7" fill="#6c6c6c" transform="rotate(45 975.6 1272.5)"/>
<rect x="847.7" y="1372.4" width="37.0" height="12.3" rx="3.7" fill="#6c6c6c" transform="rotate(45 866.2 1378.6)"/>
<rect x="957.1" y="1372.4" width="37.0" height="12.3" rx="3.7" fill="#939393" transform="rotate(-45 975.6 1378.6)"/>
</g>
<g filter="url(#b3_5)">
<rect x="868.9" y="1249.3" width="22.5" height="17.2" rx="5.2" fill="#959595"/>
<rect x="950.4" y="1249.3" width="22.5" height="17.2" rx="5.2" fill="#6a6a6a"/>
<rect x="868.9" y="1384.6" width="22.5" height="17.2" rx="5.2" fill="#6a6a6a"/>
<rect x="950.4" y="1384.6" width="22.5" height="17.2" rx="5.2" fill="#959595"/>
<rect x="841.5" y="1271.2" width="19.3" height="21.5" rx="5.8" fill="#939393"/>
<rect x="981.0" y="1271.2" width="19.3" height="21.5" rx="5.8" fill="#6c6c6c"/>
<rect x="841.5" y="1358.4" width="19.3" height="21.5" rx="5.8" fill="#6c6c6c"/>
<rect x="981.0" y="1358.4" width="19.3" height="21.5" rx="5.8" fill="#939393"/>
<rect x="862.6" y="1273.9" width="30.8" height="25.9" rx="7.8" fill="#6b6b6b"/>
<rect x="948.4" y="1273.9" width="30.8" height="25.9" rx="7.8" fill="#949494"/>
<rect x="862.6" y="1351.2" width="30.8" height="25.9" rx="7.8" fill="#949494"/>
<rect x="948.4" y="1351.2" width="30.8" height="25.9" rx="7.8" fill="#6b6b6b"/>
<rect x="880.8" y="1217.9" width="30.8" height="37.0" rx="9.3" fill="#707070"/>
<rect x="930.2" y="1217.9" width="30.8" height="37.0" rx="9.3" fill="#8f8f8f"/>
<rect x="880.8" y="1396.1" width="30.8" height="37.0" rx="9.3" fill="#8f8f8f"/>
<rect x="930.2" y="1396.1" width="30.8" height="37.0" rx="9.3" fill="#707070"/>
<rect x="860.5" y="1277.7" width="37.0" height="19.8" rx="5.9" fill="#707070" transform="rotate(-45 879.1 1287.6)"/>
<rect x="944.2" y="1277.7" width="37.0" height="19.8" rx="5.9" fill="#8f8f8f" transform="rotate(45 962.7 1287.6)"/>
<rect x="860.5" y="1353.7" width="37.0" height="19.8" rx="5.9" fill="#8f8f8f" transform="rotate(45 879.1 1363.5)"/>
<rect x="944.2" y="1353.7" width="37.0" height="19.8" rx="5.9" fill="#707070" transform="rotate(-45 962.7 1363.5)"/>
</g>
<g filter="url(#b2_0)">
<ellipse cx="853.3" cy="1257.9" rx="12.4" ry="8.6" fill="#4c4c4c" transform="rotate(48 853.3 1257.9)"/>
<ellipse cx="988.5" cy="1257.9" rx="12.4" ry="8.6" fill="#b2b2b2" transform="rotate(-48 988.5 1257.9)"/>
<ellipse cx="853.3" cy="1393.2" rx="12.4" ry="8.6" fill="#b2b2b2" transform="rotate(-48 853.3 1393.2)"/>
<ellipse cx="988.5" cy="1393.2" rx="12.4" ry="8.6" fill="#4c4c4c" transform="rotate(48 988.5 1393.2)"/>
</g>
<g filter="url(#b1_5)">
<ellipse cx="853.3" cy="1257.9" rx="8.4" ry="5.4" fill="#222222" transform="rotate(48 853.3 1257.9)"/>
<ellipse cx="988.5" cy="1257.9" rx="8.4" ry="5.4" fill="#dddddd" transform="rotate(-48 988.5 1257.9)"/>
<ellipse cx="853.3" cy="1393.2" rx="8.4" ry="5.4" fill="#dddddd" transform="rotate(-48 853.3 1393.2)"/>
<ellipse cx="988.5" cy="1393.2" rx="8.4" ry="5.4" fill="#222222" transform="rotate(48 988.5 1393.2)"/>
</g>
</g></g>
<rect x="759.9" y="921.8" width="1.2" height="206.4" fill="#c6bec6"/>
<text transform="translate(377.7 919) scale(0.87 1)" font-size="52.5" text-anchor="start" class="dj">1</text>
<text transform="translate(642 919) scale(1.0 1)" font-size="53" text-anchor="start" class="b">2</text>
<text transform="translate(108 1216.3) scale(1.0 1)" font-size="54" text-anchor="start" class="b">m</text>
<text transform="translate(371.2 1212.6) scale(1.03 1)" font-size="57.4" text-anchor="start" class="s">d</text>
<text transform="translate(405.8 1225) scale(1 1)" font-size="45.5" text-anchor="start" class="s">2</text>
<text transform="translate(636.2 1209.8) scale(1.04 1)" font-size="56" text-anchor="start" class="s">d</text>
<text transform="translate(671.5 1222) scale(1.05 1)" font-size="46" text-anchor="start" class="s">1</text>
<text transform="translate(904.6 1205.3) scale(1.03 1)" font-size="54" text-anchor="start" class="b">q</text>
<path d="M292 1143V1074.8" stroke="#000" stroke-width="3.8" fill="none"/>
<path d="M286.8 1076.3L292 1066.8L297.2 1076.3Z" fill="#000"/>
<path d="M275.2 1130.0L342.5 1129.2" stroke="#000" stroke-width="3.7" fill="none"/>
<path d="M340.7 1124.5L350.5 1129.2L340.7 1133.9Z" fill="#000"/>
<path d="M27.8 1447.1V1378.9" stroke="#000" stroke-width="3.8" fill="none"/>
<path d="M22.6 1380.4L27.8 1370.9L33.0 1380.4Z" fill="#000"/>
<path d="M11 1433.8L77.9 1433.2" stroke="#000" stroke-width="3.7" fill="none"/>
<path d="M76.10000000000001 1428.5L85.9 1433.2L76.10000000000001 1437.9Z" fill="#000"/>
<text transform="translate(274 1084.5) scale(1 1)" font-size="25.5" text-anchor="start" class="si">y</text>
<text transform="translate(273.5 1147.6) scale(1 1)" font-size="26" text-anchor="start" class="si">o</text>
<text transform="translate(331.5 1147.6) scale(1.03 1)" font-size="25" text-anchor="start" class="si">x</text>
<text transform="translate(9.5 1388.8) scale(1 1)" font-size="25.5" text-anchor="start" class="si">y</text>
<text transform="translate(9 1451.8) scale(1 1)" font-size="26" text-anchor="start" class="si">o</text>
<text transform="translate(67 1451.6) scale(1.03 1)" font-size="25" text-anchor="start" class="si">x</text>
</svg></body></html>
